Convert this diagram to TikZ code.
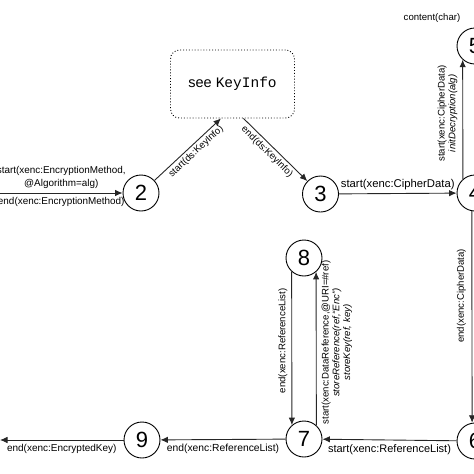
\documentclass[tikz,border=0pt]{standalone}
\usepackage{fontspec}
\setmainfont{Liberation Sans}
\newfontfamily\monof{Liberation Mono}
\usetikzlibrary{arrows.meta}
\begin{document}
\begin{tikzpicture}[x=1pt,y=1pt,
  st/.style={circle,draw,line width=0.9pt,minimum size=36pt,inner sep=0pt,fill=white,font=\fontsize{22}{22}\selectfont},
  edge/.style={draw=black!85,line width=0.9pt,-{Latex[length=7.5pt,width=6.5pt]}},
  lab/.style={font=\fontsize{#1}{12.5}\selectfont,inner sep=3pt,align=center},
  lab/.default=10.5,
  slab/.style={font=\fontsize{9.6}{10}\selectfont,inner sep=2.5pt,sloped},
  rlab/.style={font=\fontsize{9.6}{10.8}\selectfont,inner sep=4pt,align=center,rotate=90},
  infobox/.style={draw,dotted,line width=0.9pt,rounded corners=9pt,minimum width=124pt,minimum height=68pt}]
\useasboundingbox (0,-474) rectangle (474,0);
\node[infobox] (box) at (232.5,-84) {\fontsize{14.5}{14.5}\selectfont see \monof KeyInfo};
\node[st] (n2) at (141,-193) {2};
\node[st] (n3) at (320.5,-194) {3};
\node[st] (n4) at (475,-193) {4};
\node[st] (n5) at (475,-46) {5};
\node[st] (n6) at (475,-441) {6};
\node[st] (n7) at (304,-439) {7};
\node[st] (n8) at (304,-258) {8};
\node[st] (n9) at (142,-440) {9};
\coordinate (lin) at (0,-193);
\coordinate (lout) at (0,-440);
\node[font=\fontsize{9.6}{10}\selectfont] (content) at (432,-18) {content(char)};
\draw[edge] (lin) -- node[lab=9.9,above,inner sep=4pt] {start(xenc:EncryptionMethod,\\@Algorithm=alg)} node[lab=9.9,below,inner sep=3.5pt] {end(xenc:EncryptionMethod)} (n2);
\draw[edge] (n2) -- node[slab,below,pos=0.55] {start(ds:KeyInfo)} ([xshift=-11.5pt]box.south);
\draw[edge] ([xshift=11pt]box.south) -- node[slab,below,pos=0.45] {end(ds:KeyInfo)} (n3);
\draw[edge] (n3) -- node[lab=11.3,above,inner sep=3pt] {start(xenc:CipherData)} (n4);
\draw[edge] (n4.131.8) -- node[rlab,anchor=south,pos=0.55,inner sep=5pt] {start(xenc:CipherData)\\\itshape initDecryption(alg)} (n5.228.2);
\draw[edge] (n4.260.4) -- node[rlab,anchor=south,pos=0.4,inner sep=5.5pt] {end(xenc:CipherData)} (n6.99.6);
\draw[edge] (n6) -- node[lab=11,below,inner sep=4pt] {start(xenc:ReferenceList)} (n7);
\draw[edge] (n7.48.2) -- node[rlab,anchor=north,pos=0.54,inner sep=5pt] {start(xenc:DataReference,@URI=\#ref)\\\itshape storeReference(ref,“Enc”)\\\itshape storeKey(ref, key)} (n8.311.8);
\draw[edge] (n8.228.2) -- node[rlab,anchor=south,pos=0.45] {end(xenc:ReferenceList)} (n7.131.8);
\draw[edge] (n7) -- node[lab=10.3,below,inner sep=4pt] {end(xenc:ReferenceList)} (n9);
\draw[edge] (n9) -- node[lab=10,below,inner sep=4pt] {end(xenc:EncryptedKey)} (lout);
\end{tikzpicture}
\end{document}
